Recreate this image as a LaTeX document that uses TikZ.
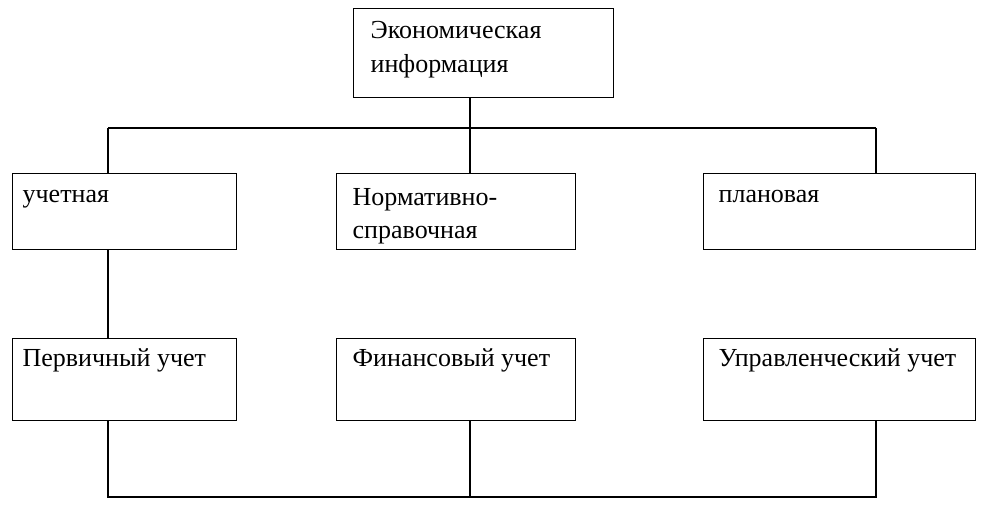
\documentclass[tikz,border=0pt]{standalone}
\usepackage{fontspec}
\setmainfont{Liberation Serif}
\begin{document}
\begin{tikzpicture}[x=1pt,y=-1pt,line width=1.3pt,
  box/.style={draw,rectangle,anchor=north west,inner sep=0pt},
  lbl/.style={anchor=north west,align=left,font=\fontsize{26}{33}\selectfont,inner sep=0pt}]
\useasboundingbox (0,0) rectangle (994,508);
\node[box,minimum width=260,minimum height=89] (top) at (353,8) {};
\node[lbl] (tt) at (370,21) {Экономическая\\[1pt]информация};
\node[box,minimum width=224,minimum height=76] (a1) at (12,173) {};
\node[box,minimum width=239,minimum height=76] (a2) at (336,173) {};
\node[box,minimum width=272,minimum height=76] (a3) at (703,173) {};
\node[lbl] at (22,190) {учетная};
\node[lbl] at (352,188) {Нормативно-\\справочная};
\node[lbl] at (718,190) {плановая};
\node[box,minimum width=224,minimum height=82] (b1) at (12,338) {};
\node[box,minimum width=239,minimum height=82] (b2) at (336,338) {};
\node[box,minimum width=272,minimum height=82] (b3) at (703,338) {};
\node[lbl] at (22,348) {Первичный учет};
\node[lbl] at (352,348) {Финансовый учет};
\node[lbl] at (718,348) {Управленческий учет};
\coordinate (h1) at (108,128); \coordinate (h3) at (876,128); \coordinate (h2) at (470,128);
\coordinate (g1) at (108,497); \coordinate (g3) at (876,497); \coordinate (g2) at (470,497);
\draw (top.south -| h2) -- (h2);
\draw (h1) -- (h3);
\draw (h1) -- (a1.north -| h1);
\draw (h2) -- (a2.north -| h2);
\draw (h3) -- (a3.north -| h3);
\draw (a1.south -| h1) -- (b1.north -| h1);
\draw (b1.south -| g1) -- (g1) -- (g3) -- (b3.south -| g3);
\draw (b2.south -| g2) -- (g2);
\end{tikzpicture}
\end{document}
